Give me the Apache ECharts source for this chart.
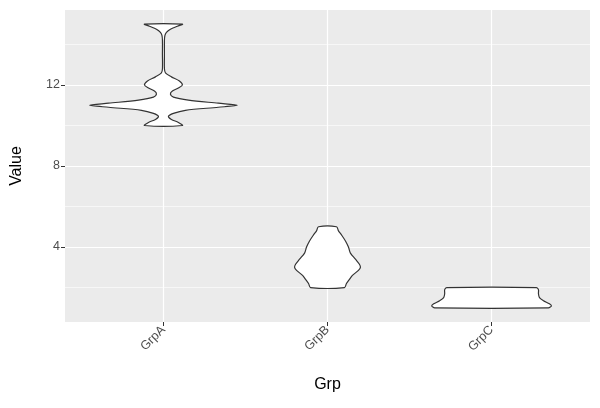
<!DOCTYPE html>
<html><head><meta charset="utf-8">
<script src="https://cdn.jsdelivr.net/npm/echarts@6/dist/echarts.min.js"></script>
<style>html,body{margin:0;padding:0;background:#fff}#c{width:600px;height:408px}</style>
</head><body><div id="c"></div>
<script>
var categories = ['GrpA','GrpB','GrpC'];
var yTicks = [4, 8, 12];
// density outlines: value, half-width (px at full scale, relative)
var grpAValues = [15.0,14.9,14.75,14.6,14.45,14.2,13.5,12.8,12.6,12.4,12.2,12.0,11.85,11.7,11.55,11.4,11.25,11.1,11.0,10.9,10.75,10.6,10.45,10.3,10.15,10.0];
var grpAWidths = [19,14,7,3,1.5,1,1,1,2,8,16,19,15,9,7,10,25,55,74,55,22,10,5,8,15,19];
var grpBValues = [5.0,4.8,4.6,4.3,4.0,3.7,3.4,3.15,3.0,2.85,2.6,2.4,2.2,2.0];
var grpBWidths = [9,11,14,18,21,23,28,32,33,31,25,22,19,17];
var grpCValues = [2.0,1.9,1.7,1.5,1.35,1.2,1.1,1.0];
var grpCWidths = [45,47,47,48,52,58,60,57];

var profiles = [[grpAValues,grpAWidths],[grpBValues,grpBWidths],[grpCValues,grpCWidths]];
var maxW = 74;
var chart = echarts.init(document.getElementById('c'));
var gridLines = [];
[2,6,10,14].forEach(function(v){gridLines.push({yAxis:v,lineStyle:{width:0.6}});});
yTicks.forEach(function(v){gridLines.push({yAxis:v,lineStyle:{width:1.2}});});
[1,2,3].forEach(function(v){gridLines.push({xAxis:v,lineStyle:{width:1.2}});});
chart.setOption({
  animation:false,
  grid:{left:65,right:10,top:10,bottom:86,show:true,backgroundColor:'#ebebeb',borderWidth:0},
  xAxis:{type:'value',min:0.4,max:3.6,name:'Grp',nameLocation:'middle',nameGap:55,
    nameTextStyle:{fontSize:16,color:'#000',fontFamily:'Liberation Sans'},
    axisLine:{show:false},splitLine:{show:false},
    axisTick:{show:true,customValues:[1,2,3],length:4,lineStyle:{color:'#333'}},
    axisLabel:{customValues:[1,2,3],rotate:45,fontSize:12.5,color:'#4d4d4d',fontFamily:'Liberation Sans',margin:6,
      formatter:function(v){return categories[Math.round(v)-1];}}},
  yAxis:{type:'value',min:0.3,max:15.7,name:'Value',nameLocation:'middle',nameGap:40,
    nameTextStyle:{fontSize:16,color:'#000',fontFamily:'Liberation Sans'},
    axisLine:{show:false},splitLine:{show:false},
    axisTick:{show:true,customValues:yTicks,length:4,lineStyle:{color:'#333'}},
    axisLabel:{customValues:yTicks,fontSize:12.5,color:'#4d4d4d',fontFamily:'Liberation Sans',margin:5}},
  series:[
    {type:'line',data:[],silent:true,z:1,zlevel:0,
     markLine:{silent:true,symbol:'none',label:{show:false},lineStyle:{color:'#fff',type:'solid'},data:gridLines}},
    {type:'custom',z:100,zlevel:1,data:categories.map(function(c,i){return [i+1];}),
     renderItem:function(params,api){
       var i = params.dataIndex, p = profiles[i], vals=p[0], ws=p[1];
       var x0 = i+1, pts=[], k;
       for(k=0;k<vals.length;k++) pts.push(api.coord([x0+ws[k]/maxW*0.45, vals[k]]));
       for(k=vals.length-1;k>=0;k--) pts.push(api.coord([x0-ws[k]/maxW*0.45, vals[k]]));
       return {type:'polygon',shape:{points:pts,smooth:0.3},style:{fill:'#fff',stroke:'#333',lineWidth:1.2}};
     }}
  ]
});
</script></body></html>
